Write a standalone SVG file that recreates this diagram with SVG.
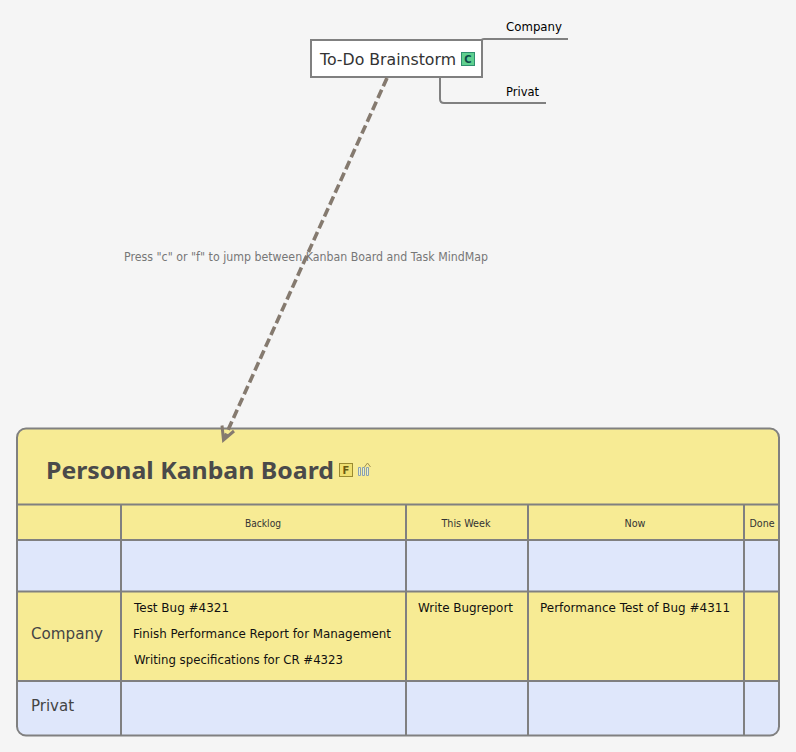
<svg xmlns="http://www.w3.org/2000/svg" width="796" height="752" viewBox="0 0 796 752">
<style>
text{font-family:"DejaVu Sans","Noto Sans",sans-serif;fill:#000;white-space:pre}
.g{stroke:#808080;stroke-width:2;fill:none}
.hd{font-size:10px;fill:#333;text-anchor:middle}
.t{font-size:12px;fill:#111}
.r{font-size:16px;fill:#444}
</style>
<rect width="796" height="752" fill="#f5f5f5"/>
<g id="node-root">
<rect x="311" y="40" width="171" height="37" fill="#fff" stroke="#808080" stroke-width="2"/>
<text x="320" y="65" font-size="16" textLength="136" lengthAdjust="spacingAndGlyphs" style="fill:#333">To-Do Brainstorm</text>
<rect x="461.500" y="52.500" width="13" height="13" fill="#5fd08f" stroke="#2f8f6f"/>
<text x="468" y="63" font-size="10" font-weight="bold" text-anchor="middle" style="fill:#0b4a4a">C</text>
</g>
<g id="node-company"><text x="506" y="31" font-size="12" textLength="56" lengthAdjust="spacingAndGlyphs">Company</text></g>
<g id="node-privat"><text x="506" y="96" font-size="12" textLength="33" lengthAdjust="spacingAndGlyphs">Privat</text></g>
<g id="label-hint"><text x="124" y="261" font-size="12" textLength="364" lengthAdjust="spacingAndGlyphs" style="fill:#777">Press "c" or "f" to jump between Kanban Board and Task MindMap</text></g>
<g id="node-board">
<rect x="17" y="428.500" width="762" height="307" rx="9" fill="#f7eb94"/>
<path d="M17 540.500H779V591.500H17ZM17 681.500H779V726.500Q779 735.500 770 735.500H26Q17 735.500 17 726.500Z" fill="#dfe7fb"/>
<rect class="g" x="17" y="428.500" width="762" height="307" rx="9"/>
<path class="g" d="M17 504.500H779M17 540H779M17 591.500H779M17 681H779M121 504.500V735.500M406 504.500V735.500M528 504.500V735.500M744 504.500V735.500"/>
<text x="46" y="479" font-size="24" font-weight="bold" textLength="288" lengthAdjust="spacingAndGlyphs" style="font-family:'Noto Sans','DejaVu Sans',sans-serif;fill:#4a4a4a">Personal Kanban Board</text>
<rect x="339.500" y="463.500" width="13" height="13" fill="#efdf70" stroke="#9a8a30"/>
<text x="346" y="474" font-size="10" font-weight="bold" text-anchor="middle" style="fill:#6a5a10">F</text>
<path d="M358.500 467.500h2v8h-2zM362.500 467.500h2v8h-2zM366.500 467.500h2v8h-2z" fill="#e8f0d0" stroke="#8aa0b0"/>
<path d="M367.500 463L364.500 467M367.500 463L370.500 467" fill="none" stroke="#a09050"/>
<text class="hd" x="263" y="527" textLength="36" lengthAdjust="spacingAndGlyphs">Backlog</text>
<text class="hd" x="466" y="527" textLength="49" lengthAdjust="spacingAndGlyphs">This Week</text>
<text class="hd" x="635" y="527" textLength="21" lengthAdjust="spacingAndGlyphs">Now</text>
<text class="hd" x="762" y="527" textLength="25" lengthAdjust="spacingAndGlyphs">Done</text>
<text class="r" x="31" y="639" textLength="72" lengthAdjust="spacingAndGlyphs">Company</text>
<text class="r" x="31" y="711" textLength="43" lengthAdjust="spacingAndGlyphs">Privat</text>
<text class="t" x="134" y="612" textLength="95" lengthAdjust="spacingAndGlyphs">Test Bug #4321</text>
<text class="t" x="133" y="638" textLength="258" lengthAdjust="spacingAndGlyphs">Finish Performance Report for Management</text>
<text class="t" x="134" y="664" textLength="209" lengthAdjust="spacingAndGlyphs">Writing specifications for CR #4323</text>
<text class="t" x="418" y="612" textLength="95" lengthAdjust="spacingAndGlyphs">Write Bugreport</text>
<text class="t" x="540" y="612" textLength="190" lengthAdjust="spacingAndGlyphs">Performance Test of Bug #4311</text>
</g>
<g id="connectors">
<path class="g" d="M482 40Q482 39 484 39H568"/>
<path class="g" d="M440 77V99Q440 103 444 103H546"/>
<path d="M387 78L224 439" fill="none" stroke="#857a6f" stroke-width="3.600" stroke-dasharray="9 4"/>
<path d="M234 431L223.500 440L222 425.500" fill="none" stroke="#857a6f" stroke-width="3"/>
</g>
</svg>
